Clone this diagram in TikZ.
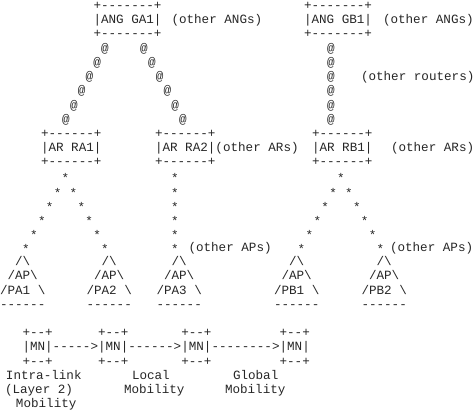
\documentclass[tikz,border=0pt]{standalone}
\usepackage{fontspec}
\setmonofont{Liberation Mono}
\usetikzlibrary{positioning}
\tikzset{
	ascii/.style={inner sep=0pt, outer sep=0pt, anchor=base west, text=black!85,
		font=\ttfamily\fontsize{9.45pt}{10.67pt}\selectfont},
	dot/.style={ascii, anchor=base},
	star/.style={dot, yshift=-2pt},
}
\begin{document}
\begin{tikzpicture}[x=0.75pt, y=-10.669pt]
	\useasboundingbox (0,0.33216) rectangle (474,29.29525);
	% gateways
	\foreach \nm/\x/\lbl in {gA1/93.5/ANG~GA1, gB1/304/ANG~GB1} {
		\node[ascii] (\nm) at (\x,2) {|\lbl|};
		\node[ascii] (\nm-t) at (\x,1) {+-------+};
		\node[ascii] (\nm-b) at (\x,3) {+-------+};
	}
	\node[ascii] (oANGa) at (171.5,2) {(other ANGs)};
	\node[ascii] (oANGb) at (383,2) {(other ANGs)};
	\node[ascii] (oRtr) at (361,6) {(other routers)};
	\foreach \r in {4,...,9} {
		\node[dot] (gA1-l\r) at ({105-7.8*(\r-4)},\r) {@};
		\node[dot] (gA1-r\r) at ({144+7.8*(\r-4)},\r) {@};
		\node[dot] (gB1-s\r) at (331,\r) {@};
	}
	% access routers
	\foreach \nm/\x/\lbl in {rA1/41/AR~RA1, rA2/155/AR~RA2, rB1/312/AR~RB1} {
		\node[ascii] (\nm) at (\x,11) {|\lbl|};
		\node[ascii] (\nm-t) at (\x,10) {+------+};
		\node[ascii] (\nm-b) at (\x,12) {+------+};
	}
	\node[ascii, base right=0pt of rA2] (oARa) {(other ARs)};
	\node[ascii] (oARb) at (391,11) {(other ARs)};
	\node[star] (rA1-s) at (65.5,13) {*};
	\node[star] (rB1-s) at (341,13) {*};
	\foreach \r in {14,...,18} {
		\node[star] (rA1-l\r) at ({65.5-7.9*(\r-13)},\r) {*};
		\node[star] (rA1-r\r) at ({65.5+7.9*(\r-13)},\r) {*};
		\node[star] (rB1-l\r) at ({341-7.9*(\r-13)},\r) {*};
		\node[star] (rB1-r\r) at ({341+7.9*(\r-13)},\r) {*};
	}
	\foreach \r in {13,...,18}
		\node[star] (rA2-s\r) at (175,\r) {*};
	\node[ascii] (oAPa) at (188.5,18) {(other APs)};
	\node[ascii] (oAPb) at (390,18) {(other APs)};
	% access points
	\foreach \nm/\x/\lbl in {pA1/0/PA1, pA2/86.5/PA2, pA3/156.5/PA3, pB1/274/PB1, pB2/361.5/PB2} {
		\node[ascii] (\nm) at (\x,21) {/\lbl~\textbackslash};
		\node[ascii] (\nm-m) at ({\x+7.55},20) {/AP\textbackslash};
		\node[ascii] (\nm-t) at ({\x+15.1},19) {/\textbackslash};
		\node[ascii] (\nm-b) at (\x,22) {------};
	}
	% mobile node movement
	\node[ascii] (mn1) at (22.5,25) {|MN|};
	\node[ascii, base right=0pt of mn1] (mv1) {----->};
	\node[ascii, base right=0pt of mv1] (mn2) {|MN|};
	\node[ascii, base right=0pt of mn2] (mv2) {------>};
	\node[ascii, base right=0pt of mv2] (mn3) {|MN|};
	\node[ascii, base right=0pt of mn3] (mv3) {-------->};
	\node[ascii, base right=0pt of mv3] (mn4) {|MN|};
	\foreach \nm in {mn1,mn2,mn3,mn4} {
		\node[ascii] (\nm-t) at ([yshift=10.669pt]\nm.base west) {+--+};
		\node[ascii] (\nm-b) at ([yshift=-10.669pt]\nm.base west) {+--+};
	}
	\node[ascii] (lIntra) at (6,27) {Intra-link};
	\node[ascii] (lLayer) at (5,28) {(Layer~2)};
	\node[ascii] (lIntraM) at (16,29) {Mobility};
	\node[ascii] (lLocal) at (132,27) {Local};
	\node[ascii] (lLocalM) at (124,28) {Mobility};
	\node[ascii] (lGlobal) at (233,27) {Global};
	\node[ascii] (lGlobalM) at (225,28) {Mobility};
\end{tikzpicture}
\end{document}
